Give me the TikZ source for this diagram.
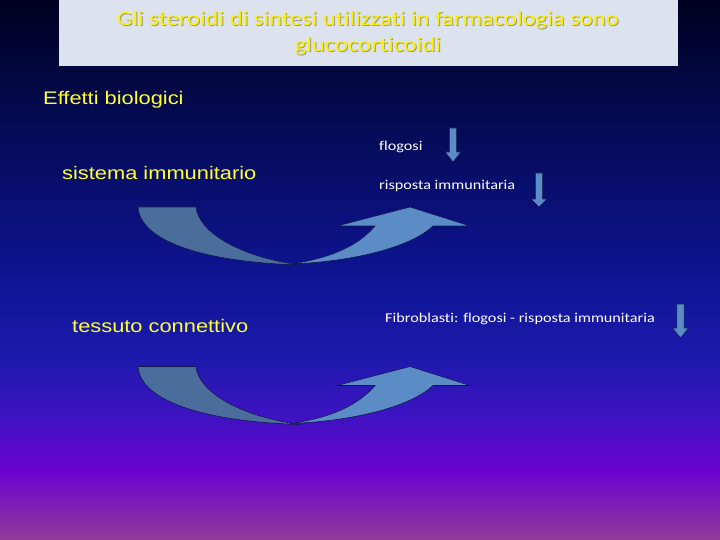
\documentclass[tikz,border=0pt]{standalone}
\usepackage{fontspec}
\setmainfont[FakeStretch=1.2,Ligatures=NoCommon]{Carlito}
\newfontfamily\arialfont[FakeStretch=1.2]{Liberation Sans}
\usetikzlibrary{positioning}

\definecolor{nero}{HTML}{000020}
\definecolor{notte}{HTML}{03094A}
\definecolor{blu1}{HTML}{0E1490}
\definecolor{blu2}{HTML}{1A1AAA}
\definecolor{indaco}{HTML}{3A14C0}
\definecolor{porpora}{HTML}{6A02D0}
\definecolor{viola}{HTML}{903C98}
\definecolor{boxtitolo}{HTML}{DCE3EF}
\definecolor{giallo}{HTML}{FFFF33}
\definecolor{bandascura}{HTML}{4B6D9B}
\definecolor{bandachiara}{HTML}{5C8CC6}
\definecolor{bordo}{HTML}{101850}

\pgfdeclareverticalshading{sfondo}{100bp}{color(0bp)=(viola); color(25bp)=(viola);
  color(31.5bp)=(porpora); color(37bp)=(indaco); color(42.6bp)=(blu2);
  color(50bp)=(blu1); color(65.7bp)=(notte); color(75bp)=(nero); color(100bp)=(nero)}

\tikzset{
  etichetta/.style={anchor=base west,inner sep=0pt,text=giallo,font=\arialfont\fontsize{18.2}{21}\selectfont},
  effetto/.style={anchor=base west,inner sep=0pt,text=white,font=\fontsize{13.5}{16}\selectfont},
  freccia/.style={draw=bordo,line width=0.6pt,fill=bandachiara}
}

\begin{document}
\begin{tikzpicture}[x=1pt,y=-1pt]
  % sfondo
  \shade[shading=sfondo] (0,0) rectangle (720,540);
  \useasboundingbox (0,0) rectangle (720,540);

  % riquadro del titolo
  \fill[boxtitolo] (59,0) rectangle (678,66);
  \node[align=center,inner sep=0pt,text=gray!80,font=\fontsize{20.5}{26}\selectfont] (ombra) at (369,34)
    {Gli steroidi di sintesi utilizzati in farmacologia sono\\glucocorticoidi};
  \node[align=center,inner sep=0pt,text=yellow,font=\fontsize{20.5}{26}\selectfont] (titolo) at (368,33)
    {Gli steroidi di sintesi utilizzati in farmacologia sono\\glucocorticoidi};

  % testi a sinistra
  \node[etichetta] (effetti) at (43,105) {Effetti biologici};
  \node[etichetta] (sistema) at (62,180) {sistema immunitario};
  \node[etichetta] (tessuto) at (72,332) {tessuto connettivo};

  % testi a destra
  \node[effetto] (flogosi) at (379,151) {flogosi};
  \node[effetto] (risposta) at (379,190) {risposta immunitaria};
  \node[effetto] (fibro) at (385,322.5) {Fibroblasti: flogosi - risposta immunitaria};

  % frecce verso il basso
  \foreach \cx/\yt/\yh/\yb in {453/128/152/162, 539/173/199/207, 680.5/304/328/338}
    \draw[freccia] (\cx-3.6,\yt) -- (\cx+3.6,\yt) -- (\cx+3.6,\yh) -- (\cx+8,\yh)
      -- (\cx,\yb) -- (\cx-8,\yh) -- (\cx-3.6,\yh) -- cycle;

  % frecce curve (la seconda spostata in basso)
  \foreach \dy in {0,159.5}{
    \begin{scope}[shift={(0,\dy)}]
      \draw[freccia,fill=bandascura] (138,207) -- (196,207)
        .. controls (198,230) and (235,256) .. (300,265)
        .. controls (200,262) and (140,240) .. (138,207) -- cycle;
      \draw[freccia] (290,264) .. controls (350,262) and (410,248) .. (433,226)
        -- (470,226) -- (410,207) -- (337,226) -- (375,226)
        .. controls (355,250) and (320,260) .. (290,264) -- cycle;
    \end{scope}
  }
\end{tikzpicture}
\end{document}
